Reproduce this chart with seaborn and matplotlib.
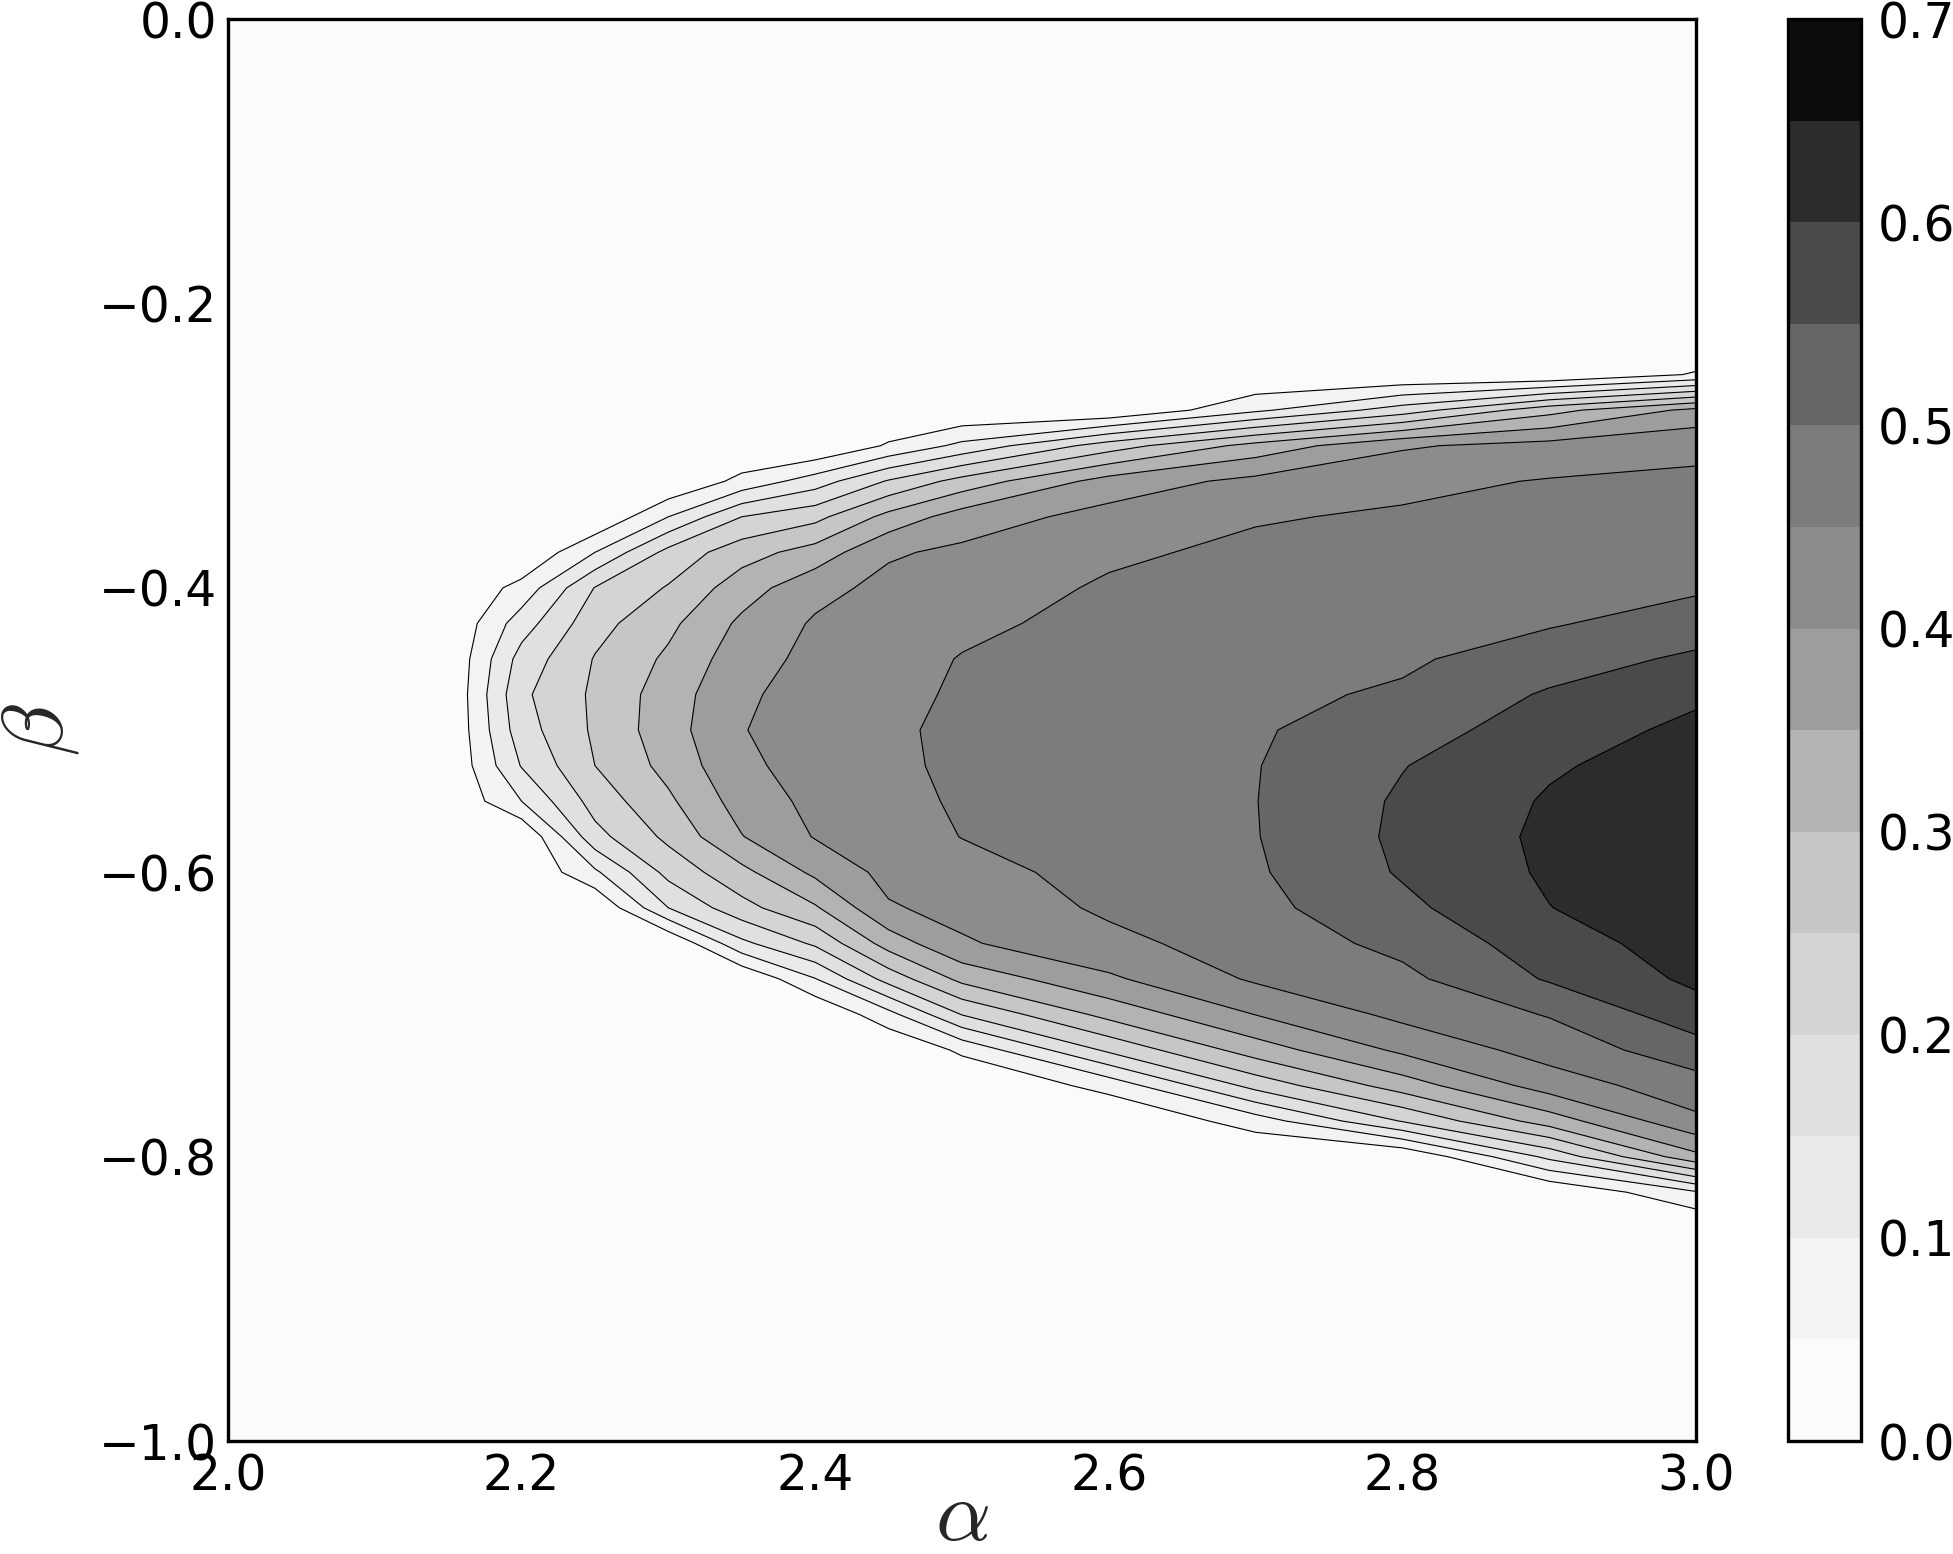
import numpy as np
import matplotlib
matplotlib.use("Agg")
import matplotlib.pyplot as plt
import seaborn as sns

# grid: alpha columns, beta rows (bottom -> top)
alpha = [2.0, 2.15, 2.2, 2.25, 2.3, 2.35, 2.4, 2.45, 2.5, 2.6, 2.7, 2.8, 2.9, 3.0]
beta = [-1.0, -0.85, -0.825, -0.8, -0.775, -0.75, -0.725, -0.7, -0.675, -0.65,
        -0.625, -0.6, -0.575, -0.55, -0.525, -0.5, -0.475, -0.45, -0.425, -0.4,
        -0.375, -0.35, -0.325, -0.3, -0.275, -0.25, -0.225, 0.0]

# one list per alpha column, same order as beta
z_200 = [0] * 28
z_215 = [0] * 28
z_220 = [0] * 13 + [0.10, 0.153, 0.178, 0.19, 0.17, 0.126, 0.067] + [0] * 8
z_225 = [0] * 11 + [0.091, 0.183, 0.221, 0.25, 0.258, 0.259, 0.253, 0.232, 0.202, 0.10] + [0] * 7
z_230 = [0] * 10 + [0.15, 0.216, 0.262, 0.291, 0.316, 0.329, 0.325, 0.309, 0.288, 0.254,
                    0.216, 0.10] + [0] * 6
z_235 = [0] * 9 + [0.138, 0.233, 0.286, 0.348, 0.372, 0.39, 0.398, 0.392, 0.378, 0.36,
                   0.327, 0.279, 0.2, 0.065] + [0] * 5
z_240 = [0] * 8 + [0.098, 0.209, 0.294, 0.361, 0.403, 0.413, 0.419, 0.422, 0.42, 0.414,
                   0.406, 0.384, 0.321, 0.235, 0.125] + [0] * 5
z_245 = [0] * 7 + [0.083, 0.22, 0.322, 0.395, 0.415, 0.428, 0.438, 0.443, 0.444, 0.44,
                   0.434, 0.425, 0.414, 0.394, 0.316, 0.205, 0.056] + [0] * 4
z_250 = [0] * 6 + [0.06, 0.202, 0.314, 0.394, 0.416, 0.433, 0.451, 0.455, 0.457, 0.458,
                   0.455, 0.452, 0.441, 0.426, 0.41, 0.374, 0.269, 0.113] + [0] * 4
z_260 = [0] * 5 + [0.067, 0.21, 0.316, 0.392, 0.437, 0.458, 0.467, 0.474, 0.478, 0.479,
                   0.477, 0.474, 0.469, 0.463, 0.456, 0.442, 0.418, 0.371, 0.225] + [0] * 4
z_270 = [0] * 4 + [0.073, 0.218, 0.325, 0.401, 0.457, 0.473, 0.486, 0.494, 0.498, 0.499,
                   0.498, 0.495, 0.49, 0.484, 0.477, 0.469, 0.46, 0.446, 0.414, 0.318,
                   0.09] + [0] * 3
z_280 = [0] * 4 + [0.203, 0.325, 0.41, 0.463, 0.488, 0.513, 0.538, 0.555, 0.56, 0.557,
                   0.548, 0.528, 0.506, 0.493, 0.484, 0.475, 0.465, 0.456, 0.438, 0.394,
                   0.174] + [0] * 3
z_290 = [0] * 3 + [0.163, 0.324, 0.423, 0.471, 0.503, 0.555, 0.576, 0.599, 0.607, 0.61,
                   0.605, 0.594, 0.575, 0.556, 0.524, 0.496, 0.485, 0.475, 0.464, 0.453,
                   0.418, 0.282] + [0] * 3
z_300 = [0] * 2 + [0.095, 0.337, 0.439, 0.48, 0.528, 0.579, 0.61, 0.625, 0.635, 0.64,
                   0.64, 0.635, 0.625, 0.612, 0.591, 0.56, 0.521, 0.494, 0.482, 0.471,
                   0.459, 0.438, 0.364, 0.055] + [0] * 2

levels = np.linspace(0.0, 0.7, 15)
band_colors = ['#fbfbfb', '#f3f3f3', '#eaeaea', '#e0e0e0', '#d4d4d4', '#c6c6c6', '#b3b3b3',
               '#9d9d9d', '#8c8c8c', '#7c7c7c', '#666666', '#4a4a4a', '#2c2c2c', '#0c0c0c']

Z = np.column_stack([z_200, z_215, z_220, z_225, z_230, z_235, z_240, z_245,
                     z_250, z_260, z_270, z_280, z_290, z_300])
A, B = np.meshgrid(alpha, beta)

sns.set_style("ticks")
plt.rcParams['font.family'] = ['DejaVu Sans']
plt.rcParams['mathtext.fontset'] = 'cm'


def fmt(v, pos):
    return ('%.1f' % v).replace('-', '\u2212')


fig = plt.figure(figsize=(19.53, 15.54), dpi=100)
ax = fig.add_axes([0.1167, 0.0727, 0.7517, 0.915])
cax = fig.add_axes([0.9155, 0.0727, 0.0374, 0.915])

cf = ax.contourf(A, B, Z, levels=levels, colors=band_colors)
ax.contour(A, B, Z, levels=levels[1:-1], colors='k', linewidths=0.8)

ax.set_xlim(2.0, 3.0)
ax.set_ylim(-1.0, 0.0)
ax.set_xticks(np.linspace(2.0, 3.0, 6))
ax.set_yticks(np.linspace(-1.0, 0.0, 6))
ax.xaxis.set_major_formatter(matplotlib.ticker.FuncFormatter(fmt))
ax.yaxis.set_major_formatter(matplotlib.ticker.FuncFormatter(fmt))
ax.tick_params(direction='in', top=True, right=True, length=11, width=1.2,
               labelsize=35, color='k', labelcolor='k')
ax.tick_params(axis='x', pad=8)
ax.tick_params(axis='y', pad=8)
for s in ax.spines.values():
    s.set_linewidth(2.4)
    s.set_color('k')

ax.set_xlabel(r'$\alpha$', fontsize=62)
ax.set_ylabel(r'$\beta$', fontsize=62)
ax.xaxis.set_label_coords(0.5, -0.024)
ax.yaxis.set_label_coords(-0.1, 0.5)

cb = fig.colorbar(cf, cax=cax, ticks=np.linspace(0.0, 0.7, 8))
cb.outline.set_linewidth(2.4)
cb.outline.set_edgecolor('k')
cb.ax.yaxis.set_major_formatter(matplotlib.ticker.FuncFormatter(fmt))
cax.tick_params(direction='in', length=11, width=1.2, labelsize=35, pad=12,
                color='k', labelcolor='k')

fig.savefig('out.png', dpi=100)
